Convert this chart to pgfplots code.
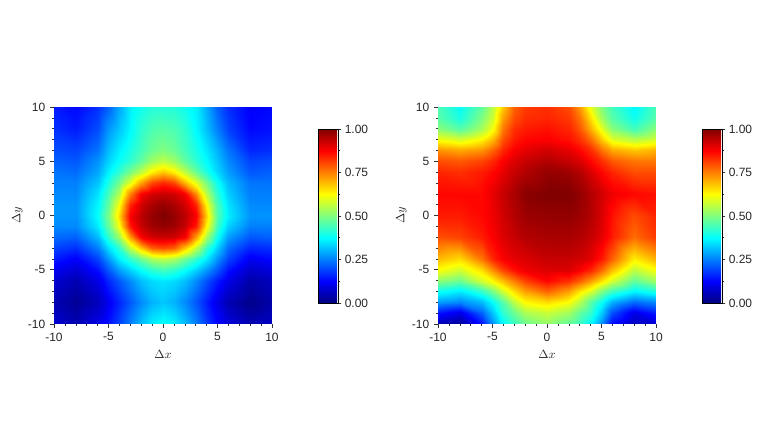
\documentclass[border=0pt]{standalone}
\usepackage{pgfplots}
\usepackage{pgfplotstable}
\pgfplotsset{compat=1.18}
\usepackage{fontspec}
\setmainfont{Liberation Sans}
\pgfplotstableread[row sep=\\]{
x y z\\
-10 -10 .08\\-8 -10 .05\\-6 -10 .10\\-5 -10 .14\\-4 -10 .19\\-3 -10 .25\\-2 -10 .31\\-1 -10 .36\\0 -10 .38\\1 -10 .36\\2 -10 .31\\3 -10 .25\\4 -10 .18\\5 -10 .13\\6 -10 .09\\8 -10 .05\\10 -10 .07\\
-10 -8 .05\\-8 -8 .02\\-6 -8 .06\\-5 -8 .11\\-4 -8 .16\\-3 -8 .21\\-2 -8 .26\\-1 -8 .30\\0 -8 .32\\1 -8 .30\\2 -8 .26\\3 -8 .21\\4 -8 .15\\5 -8 .10\\6 -8 .05\\8 -8 .01\\10 -8 .04\\
-10 -6 .08\\-8 -6 .05\\-6 -6 .10\\-5 -6 .16\\-4 -6 .21\\-3 -6 .26\\-2 -6 .31\\-1 -6 .34\\0 -6 .35\\1 -6 .34\\2 -6 .31\\3 -6 .26\\4 -6 .20\\5 -6 .15\\6 -6 .10\\8 -6 .04\\10 -6 .06\\
-10 -5 .11\\-8 -5 .08\\-6 -5 .14\\-5 -5 .21\\-4 -5 .28\\-3 -5 .33\\-2 -5 .38\\-1 -5 .42\\0 -5 .44\\1 -5 .42\\2 -5 .38\\3 -5 .33\\4 -5 .27\\5 -5 .21\\6 -5 .14\\8 -5 .07\\10 -5 .09\\
-10 -4 .15\\-8 -4 .12\\-6 -4 .19\\-5 -4 .27\\-4 -4 .36\\-3 -4 .42\\-2 -4 .48\\-1 -4 .54\\0 -4 .56\\1 -4 .54\\2 -4 .48\\3 -4 .42\\4 -4 .35\\5 -4 .27\\6 -4 .19\\8 -4 .11\\10 -4 .13\\
-10 -3 .19\\-8 -3 .17\\-6 -3 .25\\-5 -3 .34\\-4 -3 .42\\-3 -3 .56\\-2 -3 .68\\-1 -3 .78\\0 -3 .80\\1 -3 .78\\2 -3 .68\\3 -3 .56\\4 -3 .42\\5 -3 .33\\6 -3 .23\\8 -3 .16\\10 -3 .17\\
-10 -2 .23\\-8 -2 .22\\-6 -2 .31\\-5 -2 .42\\-4 -2 .53\\-3 -2 .72\\-2 -2 .88\\-1 -2 .92\\0 -2 .93\\1 -2 .92\\2 -2 .88\\3 -2 .72\\4 -2 .53\\5 -2 .39\\6 -2 .28\\8 -2 .21\\10 -2 .22\\
-10 -1 .26\\-8 -1 .26\\-6 -1 .36\\-5 -1 .47\\-4 -1 .62\\-3 -1 .85\\-2 -1 .93\\-1 -1 .97\\0 -1 .98\\1 -1 .97\\2 -1 .93\\3 -1 .85\\4 -1 .62\\5 -1 .44\\6 -1 .33\\8 -1 .25\\10 -1 .25\\
-10 0 .27\\-8 0 .27\\-6 0 .38\\-5 0 .49\\-4 0 .66\\-3 0 .88\\-2 0 .94\\-1 0 .98\\0 0 1.0\\1 0 .98\\2 0 .94\\3 0 .88\\4 0 .66\\5 0 .46\\6 0 .36\\8 0 .27\\10 0 .27\\
-10 1 .27\\-8 1 .27\\-6 1 .37\\-5 1 .47\\-4 1 .62\\-3 1 .84\\-2 1 .92\\-1 1 .96\\0 1 .98\\1 1 .96\\2 1 .92\\3 1 .84\\4 1 .62\\5 1 .45\\6 1 .35\\8 1 .26\\10 1 .26\\
-10 2 .26\\-8 2 .26\\-6 2 .35\\-5 2 .44\\-4 2 .55\\-3 2 .75\\-2 2 .88\\-1 2 .92\\0 2 .93\\1 2 .92\\2 2 .88\\3 2 .74\\4 2 .55\\5 2 .42\\6 2 .33\\8 2 .25\\10 2 .25\\
-10 3 .25\\-8 3 .25\\-6 3 .32\\-5 3 .40\\-4 3 .49\\-3 3 .60\\-2 3 .72\\-1 3 .81\\0 3 .84\\1 3 .81\\2 3 .70\\3 3 .60\\4 3 .49\\5 3 .39\\6 3 .31\\8 3 .24\\10 3 .24\\
-10 4 .24\\-8 4 .23\\-6 4 .29\\-5 4 .36\\-4 4 .42\\-3 4 .49\\-2 4 .56\\-1 4 .64\\0 4 .68\\1 4 .64\\2 4 .56\\3 4 .48\\4 4 .40\\5 4 .34\\6 4 .28\\8 4 .21\\10 4 .22\\
-10 5 .22\\-8 5 .21\\-6 5 .27\\-5 5 .33\\-4 5 .38\\-3 5 .42\\-2 5 .47\\-1 5 .53\\0 5 .56\\1 5 .53\\2 5 .47\\3 5 .42\\4 5 .37\\5 5 .32\\6 5 .26\\8 5 .19\\10 5 .20\\
-10 6 .20\\-8 6 .19\\-6 6 .24\\-5 6 .31\\-4 6 .36\\-3 6 .40\\-2 6 .44\\-1 6 .48\\0 6 .50\\1 6 .48\\2 6 .44\\3 6 .40\\4 6 .35\\5 6 .30\\6 6 .24\\8 6 .16\\10 6 .17\\
-10 8 .17\\-8 8 .15\\-6 8 .20\\-5 8 .27\\-4 8 .32\\-3 8 .37\\-2 8 .42\\-1 8 .45\\0 8 .46\\1 8 .45\\2 8 .42\\3 8 .37\\4 8 .31\\5 8 .25\\6 8 .19\\8 8 .13\\10 8 .14\\
-10 10 .15\\-8 10 .13\\-6 10 .17\\-5 10 .22\\-4 10 .29\\-3 10 .36\\-2 10 .39\\-1 10 .41\\0 10 .41\\1 10 .41\\2 10 .39\\3 10 .36\\4 10 .29\\5 10 .22\\6 10 .17\\8 10 .12\\10 10 .13\\
}\mapA
\pgfplotstableread[row sep=\\]{
x y z\\
-10 -10 .05\\-8 -10 .02\\-6 -10 .14\\-5 -10 .27\\-4 -10 .37\\-3 -10 .43\\-2 -10 .48\\0 -10 .52\\2 -10 .47\\3 -10 .43\\4 -10 .37\\5 -10 .26\\6 -10 .13\\8 -10 .06\\10 -10 .08\\
-10 -9 .14\\-8 -9 .10\\-6 -9 .22\\-5 -9 .32\\-4 -9 .42\\-3 -9 .48\\-2 -9 .54\\0 -9 .57\\2 -9 .53\\3 -9 .47\\4 -9 .42\\5 -9 .32\\6 -9 .20\\8 -9 .10\\10 -9 .15\\
-10 -8 .28\\-8 -8 .26\\-6 -8 .31\\-5 -8 .38\\-4 -8 .46\\-3 -8 .56\\-2 -8 .63\\0 -8 .66\\2 -8 .62\\3 -8 .55\\4 -8 .46\\5 -8 .38\\6 -8 .30\\8 -8 .23\\10 -8 .26\\
-10 -7 .39\\-8 -7 .36\\-6 -7 .43\\-5 -7 .50\\-4 -7 .58\\-3 -7 .66\\-2 -7 .72\\0 -7 .78\\2 -7 .72\\3 -7 .65\\4 -7 .59\\5 -7 .50\\6 -7 .44\\8 -7 .37\\10 -7 .41\\
-10 -6 .51\\-8 -6 .48\\-6 -6 .58\\-5 -6 .63\\-4 -6 .69\\-3 -6 .75\\-2 -6 .81\\0 -6 .87\\2 -6 .83\\3 -6 .78\\4 -6 .72\\5 -6 .65\\6 -6 .58\\8 -6 .47\\10 -6 .53\\
-10 -5 .62\\-8 -5 .58\\-6 -5 .66\\-5 -5 .74\\-4 -5 .81\\-3 -5 .86\\-2 -5 .89\\0 -5 .91\\2 -5 .91\\3 -5 .88\\4 -5 .84\\5 -5 .77\\6 -5 .69\\8 -5 .56\\10 -5 .62\\
-10 -4 .69\\-8 -4 .66\\-6 -4 .76\\-5 -4 .84\\-4 -4 .88\\-3 -4 .90\\-2 -4 .91\\0 -4 .93\\2 -4 .93\\3 -4 .92\\4 -4 .90\\5 -4 .85\\6 -4 .78\\8 -4 .64\\10 -4 .70\\
-10 -2 .80\\-8 -2 .81\\-6 -2 .85\\-5 -2 .88\\-4 -2 .91\\-3 -2 .93\\-2 -2 .95\\0 -2 .96\\2 -2 .96\\3 -2 .95\\4 -2 .93\\5 -2 .90\\6 -2 .85\\8 -2 .77\\10 -2 .82\\
-10 0 .85\\-8 0 .85\\-6 0 .87\\-5 0 .89\\-4 0 .92\\-3 0 .95\\-2 0 .97\\0 0 .98\\2 0 .98\\3 0 .97\\4 0 .95\\5 0 .91\\6 0 .86\\8 0 .80\\10 0 .84\\
-10 2 .87\\-8 2 .87\\-6 2 .87\\-5 2 .90\\-4 2 .93\\-3 2 .96\\-2 2 .99\\0 2 1.0\\2 2 1.0\\3 2 .98\\4 2 .95\\5 2 .92\\6 2 .89\\8 2 .87\\10 2 .86\\
-10 4 .84\\-8 4 .83\\-6 4 .85\\-5 4 .87\\-4 4 .90\\-3 4 .93\\-2 4 .95\\0 4 .98\\2 4 .97\\3 4 .95\\4 4 .91\\5 4 .87\\6 4 .84\\8 4 .80\\10 4 .80\\
-10 5 .80\\-8 5 .79\\-6 5 .81\\-5 5 .84\\-4 5 .88\\-3 5 .91\\-2 5 .93\\0 5 .95\\2 5 .93\\3 5 .91\\4 5 .87\\5 5 .83\\6 5 .79\\8 5 .76\\10 5 .76\\
-10 6 .73\\-8 6 .71\\-6 6 .73\\-5 6 .78\\-4 6 .84\\-3 6 .88\\-2 6 .90\\0 6 .92\\2 6 .90\\3 6 .87\\4 6 .83\\5 6 .76\\6 6 .71\\8 6 .68\\10 6 .70\\
-10 7 .62\\-8 7 .59\\-6 7 .64\\-5 7 .70\\-4 7 .80\\-3 7 .85\\-2 7 .87\\0 7 .88\\2 7 .86\\3 7 .83\\4 7 .77\\5 7 .68\\6 7 .60\\8 7 .56\\10 7 .59\\
-10 8 .51\\-8 8 .46\\-6 8 .54\\-5 8 .62\\-4 8 .76\\-3 8 .83\\-2 8 .85\\0 8 .86\\2 8 .84\\3 8 .79\\4 8 .70\\5 8 .60\\6 8 .51\\8 8 .44\\10 8 .51\\
-10 9 .46\\-8 9 .40\\-6 9 .50\\-5 9 .58\\-4 9 .72\\-3 9 .80\\-2 9 .83\\0 9 .84\\2 9 .82\\3 9 .76\\4 9 .65\\5 9 .53\\6 9 .46\\8 9 .39\\10 9 .46\\
-10 10 .45\\-8 10 .38\\-6 10 .47\\-5 10 .56\\-4 10 .68\\-3 10 .78\\-2 10 .82\\0 10 .83\\2 10 .80\\3 10 .72\\4 10 .60\\5 10 .50\\6 10 .44\\8 10 .37\\10 10 .45\\
}\mapB
\pgfplotsset{
  hm/.style={
    anchor=south west, scale only axis,
    width=163.5pt, height=162.75pt,
    xmin=-10,xmax=10,ymin=-10,ymax=10,
    xtick={-10,-5,0,5,10}, ytick={-10,-5,0,5,10},
    minor tick num=4,
    tick align=outside, tick pos=left,
    major tick length=3pt, minor tick length=1.6pt,
    tick style={black!80,line width=.4pt},
    axis line style={draw=none},
    axis on top,
    /pgf/number format/assume math mode=true,
    tick label style={font=\fontsize{9}{10}\selectfont,text=black!85},
    xlabel={$\Delta x$}, ylabel={$\Delta y$},
    label style={font=\fontsize{9}{10}\selectfont,text=black!85},
    xlabel style={yshift=0pt}, ylabel style={yshift=-3pt},
    yticklabel style={xshift=0pt},
    colormap/jet, point meta min=0, point meta max=1,
    view={0}{90},
    colorbar,
    colorbar style={
      scale only axis,
      at={(parent axis.north west)}, anchor=north west,
      xshift=189.5pt, yshift=-16.5pt,
      width=15pt, height=130.5pt,
      ytick={0,.25,.5,.75,1},
      minor y tick num=1,
      yticklabel style={font=\fontsize{9}{10}\selectfont,text=black!85,xshift=-1pt,
        /pgf/number format/fixed, /pgf/number format/fixed zerofill,
        /pgf/number format/precision=2, /pgf/number format/assume math mode=true},
      ytick pos=right, yticklabel pos=right, tick align=outside,
      major tick length=2.5pt, minor tick length=1.2pt,
      tick style={black!80,line width=.5pt},
      axis line style={black,line width=.6pt},
    },
  }
}
\begin{document}
\begin{tikzpicture}
\path[use as bounding box] (0,0) rectangle (576pt,324pt);
\begin{axis}[hm, at={(40.5pt,81pt)}]
\addplot3[surf,shader=interp,mesh/rows=17,mesh/cols=17] table[x=x,y=y,z=z,meta=z] {\mapA};
\end{axis}
\begin{axis}[hm, at={(328.5pt,81pt)}]
\addplot3[surf,shader=interp,mesh/rows=17,mesh/cols=15] table[x=x,y=y,z=z,meta=z] {\mapB};
\end{axis}
\end{tikzpicture}
\end{document}
